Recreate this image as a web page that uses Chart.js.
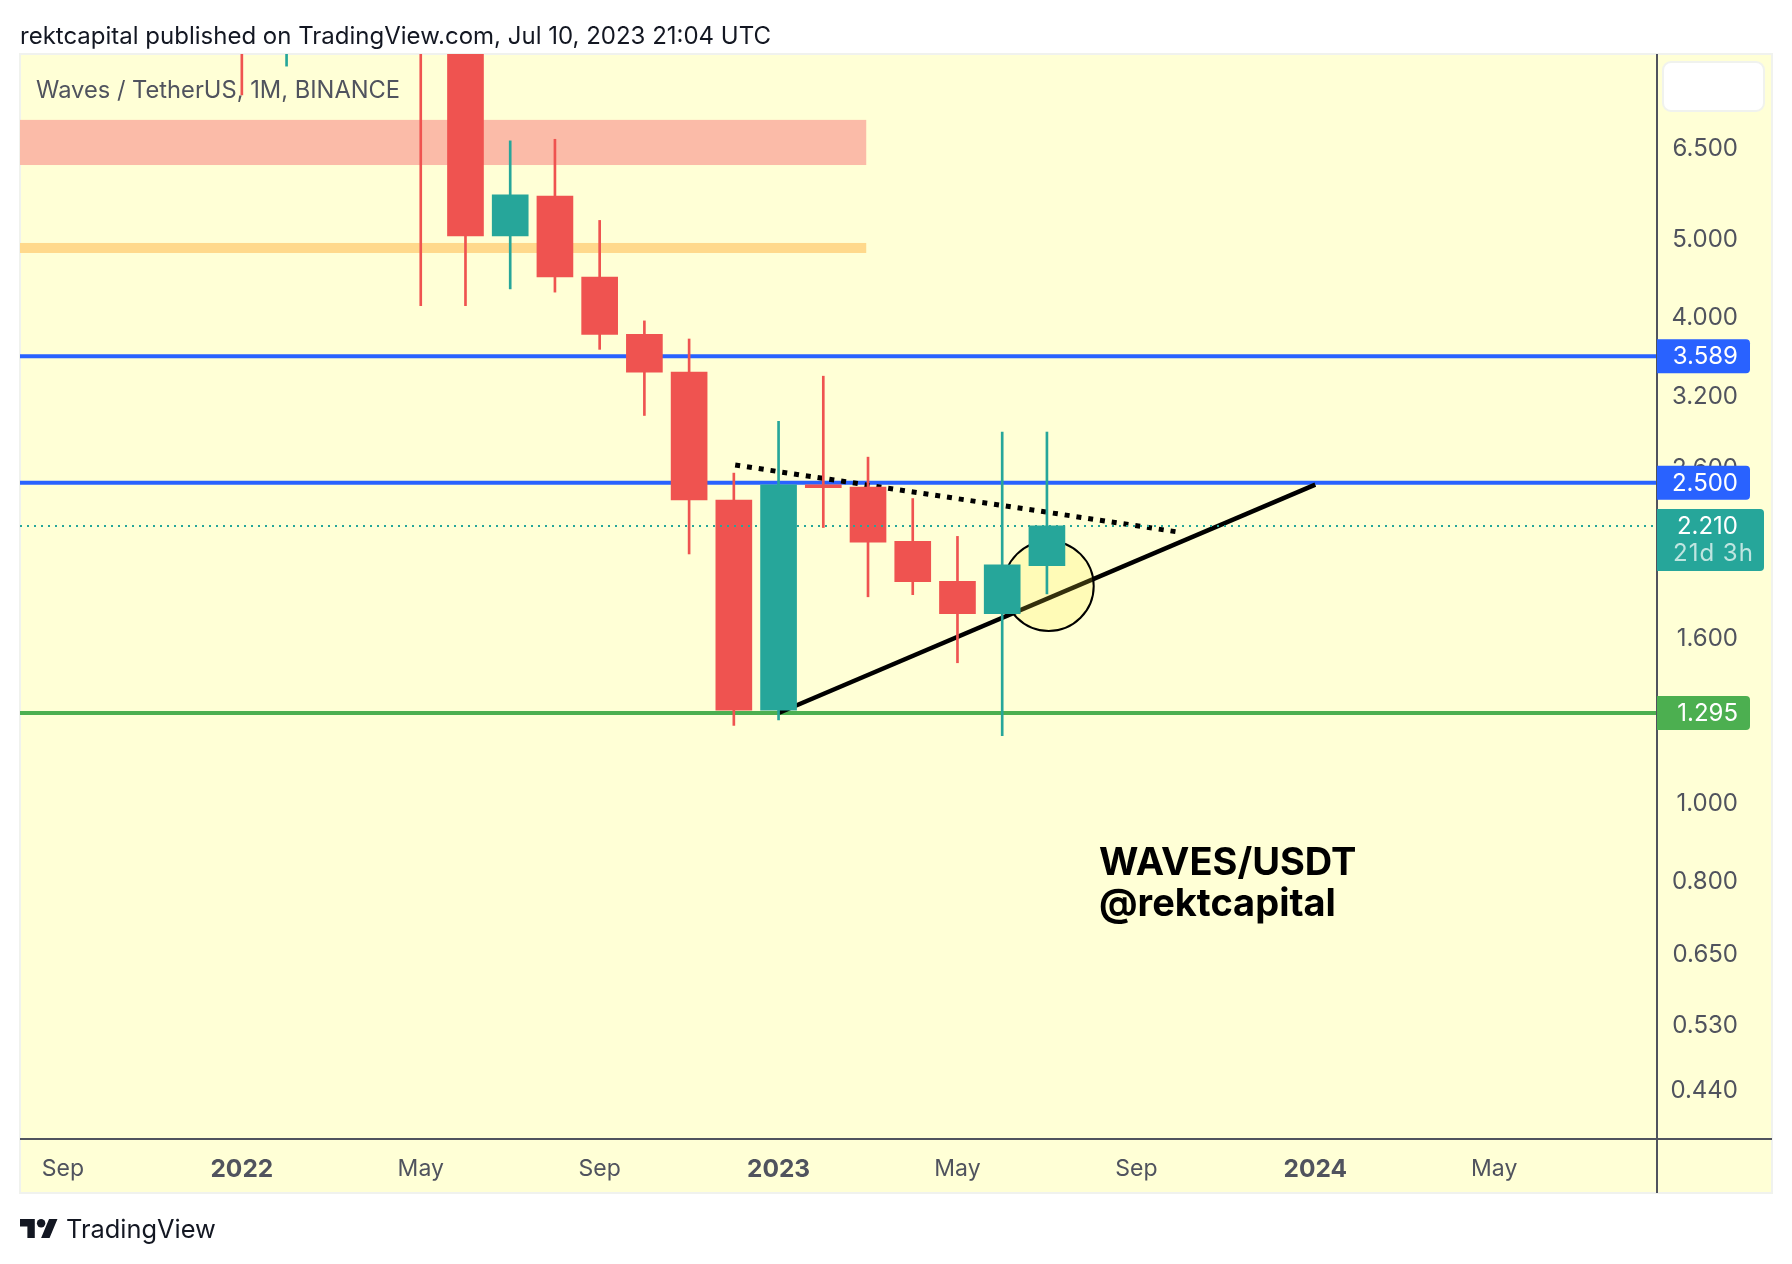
<!DOCTYPE html>
<html>
<head>
<meta charset="utf-8">
<title>WAVES/USDT</title>
<script src="https://cdn.jsdelivr.net/npm/chart.js@4"></script>
<style>
  body { margin: 0; background: #fff; font-family: Inter, sans-serif; }
  #wrap { position: relative; width: 1792px; height: 1264px; overflow: hidden; }
  canvas { position: absolute; left: 0; top: 0; }
  .txt { position: absolute; white-space: nowrap; }
  #published { left: 20px; top: 21px; font-size: 24px; line-height: 30px; color: #131722; }
  #symbol { left: 36px; top: 75px; font-size: 23.7px; line-height: 30px; color: #50535e; }
  #stamp { left: 1099px; top: 841px; font-size: 38px; line-height: 41px; font-weight: 700; color: #000; }
  #brand { left: 66px; top: 1213px; font-size: 25.4px; line-height: 32px; color: #131722; }
  #logo { position: absolute; left: 20px; top: 1219px; }
</style>
</head>
<body>
<div id="wrap">
  <canvas id="chart" width="1792" height="1264"></canvas>
  <div class="txt" id="published">rektcapital published on TradingView.com, Jul 10, 2023 21:04 UTC</div>
  <div class="txt" id="symbol">Waves / TetherUS, 1M, BINANCE</div>
  <div class="txt" id="stamp">WAVES/USDT<br>@rektcapital</div>
  <svg id="logo" width="38" height="19" viewBox="0 4 36 18" preserveAspectRatio="none">
    <path fill="#131722" d="M14 22H7V11H0V4h14v18zM28 22h-8l7.5-18h8L28 22z"/>
    <circle fill="#131722" cx="20" cy="8" r="4"/>
  </svg>
  <div class="txt" id="brand">TradingView</div>
</div>

<script>
/* month index 0 = Sep 2021 */
const CANDLE_INDEX = [4, 5, 6, 7, 8, 9, 10, 11, 12, 13, 14, 15, 16, 17, 18, 19, 20, 21, 22];
const OPENS  = [16, 10, 11.5, 30, 11, 9, 5.06, 5.67, 4.5, 3.82, 3.43, 2.38, 1.306, 2.485, 2.47, 2.115, 1.887, 1.72, 1.973];
const HIGHS  = [18, 14, 42, 63, 12, 10, 6.64, 6.67, 5.29, 3.97, 3.77, 2.57, 2.98, 3.39, 2.69, 2.39, 2.145, 2.89, 2.89];
const LOWS   = [7.57, 8.22, 10, 9.5, 4.146, 4.146, 4.35, 4.31, 3.66, 3.03, 2.04, 1.25, 1.27, 2.2, 1.805, 1.816, 1.495, 1.214, 1.82];
const CLOSES = [10, 11.5, 30, 11, 9, 5.06, 5.69, 4.5, 3.82, 3.43, 2.38, 1.306, 2.485, 2.465, 2.11, 1.885, 1.72, 1.977, 2.21];

const X_TICKS = [0, 4, 8, 12, 16, 20, 24, 28, 32];
const X_LABELS = ["Sep", "2022", "May", "Sep", "2023", "May", "Sep", "2024", "May"];
const Y_TICKS = [6.5, 5, 4, 3.2, 2.6, 1.6, 1, 0.8, 0.65, 0.53, 0.44];

const X_MIN = -0.96;
const X_MAX = 35.64;
const Y_MIN = 0.3835;
const Y_MAX = 8.51;

const LEVEL_BLUE = [3.589, 2.5];
const LEVEL_GREEN = 1.295;
const LAST_PRICE = 2.21;

const TREND_X = [16, 28];
const TREND_Y = [1.295, 2.487];
const DOTTED_X = [15.03, 24.88];
const DOTTED_Y = [2.63, 2.174];
const CIRCLE_X = [22.04];
const CIRCLE_Y = [1.862];

const RED_ZONE = [6.197, 7.05];
const ORANGE_ZONE = [4.82, 4.96];
const ZONE_END = 17.96;

const RED = "#ef5350";
const TEAL = "#26a69a";
const BLUE = "#2962ff";
const GREEN = "#4caf50";
const PANEL = "#ffffd6";
const AXIS = "#50535e";
const FONT = "Inter, sans-serif";
const PANEL_RIGHT = 1772;

const candleColors = OPENS.map((open, i) => (CLOSES[i] >= open ? TEAL : RED));
const bodies = CANDLE_INDEX.map((x, i) => ({ x: x, y: [OPENS[i], CLOSES[i]] }));
const wicks = CANDLE_INDEX.map((x, i) => ({ x: x, y: [LOWS[i], HIGHS[i]] }));


function flatLine(value, color, order) {
  return {
    type: "line",
    data: [{ x: X_MIN, y: value }, { x: X_MAX, y: value }],
    borderColor: color,
    borderWidth: 4,
    pointRadius: 0,
    order: order,
  };
}


function drawTag(ctx, yPx, value, color, width, left) {
  ctx.fillStyle = color;
  ctx.beginPath();
  ctx.roundRect(left, yPx - 17, width, 34, [0, 4, 4, 0]);
  ctx.fill();
  ctx.fillStyle = "#fff";
  ctx.fillText(value, 1738, yPx + 1);
}


const panelPlugin = {
  id: "panel",
  beforeDraw(chart) {
    const { ctx, chartArea } = chart;
    const xAxis = chart.scales.x;

    ctx.save();
    ctx.fillStyle = PANEL;
    ctx.strokeStyle = "#f0f2ee";
    ctx.lineWidth = 2;
    ctx.fillRect(chartArea.left, chartArea.top, PANEL_RIGHT - chartArea.left, xAxis.bottom - chartArea.top);
    ctx.strokeRect(chartArea.left, chartArea.top, PANEL_RIGHT - chartArea.left, xAxis.bottom - chartArea.top);
    ctx.restore();
  },
  beforeDatasetsDraw(chart) {
    const { ctx, chartArea } = chart;
    const xAxis = chart.scales.x;
    const yAxis = chart.scales.y;
    const right = xAxis.getPixelForValue(ZONE_END);

    function zone(range, color) {
      const top = yAxis.getPixelForValue(range[1]);
      const bottom = yAxis.getPixelForValue(range[0]);
      ctx.fillStyle = color;
      ctx.fillRect(chartArea.left, top, right - chartArea.left, bottom - top);
    }

    ctx.save();
    zone(RED_ZONE, "#fbbba8");
    zone(ORANGE_ZONE, "#ffd98c");
    ctx.restore();
  },
  afterDraw(chart) {
    const { ctx, chartArea } = chart;
    const xAxis = chart.scales.x;
    const yAxis = chart.scales.y;
    const left = chartArea.right;

    ctx.save();

    // axis lines run across the whole panel
    ctx.strokeStyle = AXIS;
    ctx.lineWidth = 2;
    ctx.beginPath();
    ctx.moveTo(left, chartArea.top);
    ctx.lineTo(left, xAxis.bottom);
    ctx.moveTo(chartArea.left, chartArea.bottom);
    ctx.lineTo(PANEL_RIGHT, chartArea.bottom);
    ctx.stroke();

    // empty white button
    ctx.fillStyle = "#fff";
    ctx.strokeStyle = "#f0f2ee";
    ctx.beginPath();
    ctx.roundRect(left + 6, 62, 101, 49, 8);
    ctx.fill();
    ctx.stroke();

    // price tags
    ctx.font = "24px " + FONT;
    ctx.textAlign = "right";
    ctx.textBaseline = "middle";
    LEVEL_BLUE.forEach((value) => {
      drawTag(ctx, yAxis.getPixelForValue(value), value.toFixed(3), BLUE, 93, left);
    });
    drawTag(ctx, yAxis.getPixelForValue(LEVEL_GREEN), LEVEL_GREEN.toFixed(3), GREEN, 93, left);

    const lastY = yAxis.getPixelForValue(LAST_PRICE);
    ctx.fillStyle = TEAL;
    ctx.beginPath();
    ctx.roundRect(left, lastY - 17, 107, 62, [0, 4, 4, 0]);
    ctx.fill();
    ctx.fillStyle = "#fff";
    ctx.fillText(LAST_PRICE.toFixed(3), 1738, lastY + 1);
    ctx.letterSpacing = "1px";
    ctx.textAlign = "left";
    ctx.fillStyle = "#bfe5e0";
    ctx.fillText("21d 3h", 1673, lastY + 28);

    ctx.restore();
  },
};


function initChart() {
  const ctx = document.getElementById("chart");

  new Chart(ctx, {
    type: "bar",
    plugins: [panelPlugin],
    data: {
      datasets: [
        {
          type: "line",
          data: [{ x: X_MIN, y: LAST_PRICE }, { x: X_MAX, y: LAST_PRICE }],
          borderColor: TEAL,
          borderWidth: 2,
          borderDash: [2, 5],
          pointRadius: 0,
          order: 0,
        },
        {
          data: bodies,
          backgroundColor: candleColors,
          barThickness: 36,
          grouped: false,
          order: 1,
        },
        {
          data: wicks,
          backgroundColor: candleColors,
          barThickness: 2,
          grouped: false,
          order: 2,
        },
        {
          type: "line",
          data: CIRCLE_X.map((x, i) => ({ x: x, y: CIRCLE_Y[i] })),
          showLine: false,
          pointRadius: 45,
          pointBackgroundColor: "rgba(255, 235, 59, 0.2)",
          pointBorderColor: "#000",
          pointBorderWidth: 2,
          order: 3,
        },
        {
          type: "line",
          data: DOTTED_X.map((x, i) => ({ x: x, y: DOTTED_Y[i] })),
          borderColor: "#000",
          borderWidth: 5,
          borderDash: [5, 6.9],
          pointRadius: 0,
          order: 4,
        },
        {
          type: "line",
          data: TREND_X.map((x, i) => ({ x: x, y: TREND_Y[i] })),
          borderColor: "#000",
          borderWidth: 4.5,
          pointRadius: 0,
          order: 5,
        },
        flatLine(LEVEL_BLUE[0], BLUE, 6),
        flatLine(LEVEL_BLUE[1], BLUE, 6),
        flatLine(LEVEL_GREEN, GREEN, 6),
      ],
    },
    options: {
      responsive: false,
      devicePixelRatio: 1,
      animation: false,
      layout: {
        autoPadding: false,
        padding: { left: 20, top: 54, right: 54, bottom: 71 },
      },
      plugins: {
        legend: { display: false },
        tooltip: { enabled: false },
      },
      scales: {
        x: {
          type: "linear",
          offset: false,
          min: X_MIN,
          max: X_MAX,
          bounds: "data",
          grid: { display: false },
          border: { display: false },
          afterBuildTicks(scale) {
            scale.ticks = X_TICKS.map((value) => ({ value: value }));
          },
          afterFit(scale) {
            scale.height = 54;
            scale.paddingLeft = 0;
            scale.paddingRight = 0;
          },
          ticks: {
            autoSkip: false,
            maxRotation: 0,
            padding: 8,
            color: AXIS,
            font(context) {
              const isYear = String(X_LABELS[context.index]).startsWith("20");
              return { family: FONT, size: isYear ? 24.5 : 23, weight: isYear ? "bold" : "normal" };
            },
            callback(value) {
              return X_LABELS[X_TICKS.indexOf(value)];
            },
          },
        },
        y: {
          type: "logarithmic",
          position: "right",
          min: Y_MIN,
          max: Y_MAX,
          bounds: "data",
          grid: { display: false },
          border: { display: false },
          afterBuildTicks(scale) {
            scale.ticks = Y_TICKS.map((value) => ({ value: value }));
          },
          afterFit(scale) {
            scale.width = 81;
            scale.paddingTop = 0;
            scale.paddingBottom = 0;
          },
          ticks: {
            autoSkip: false,
            padding: 15,
            crossAlign: "far",
            color: AXIS,
            font: { family: FONT, size: 24 },
            callback(value) {
              return value.toFixed(3);
            },
          },
        },
      },
    },
  });
}

document.addEventListener("DOMContentLoaded", initChart);
</script>
</body>
</html>
